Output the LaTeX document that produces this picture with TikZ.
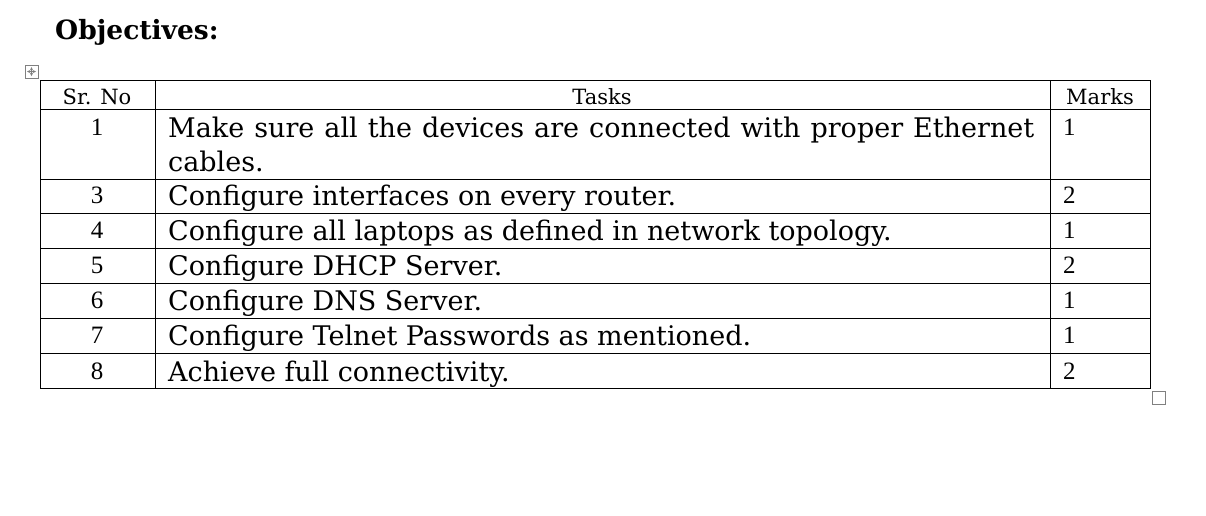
\documentclass[tikz,border=0pt]{standalone}
\usepackage{fontspec}
\setmainfont{DejaVu Serif}
\newfontfamily\numfont{Liberation Serif}
\begin{document}
\begin{tikzpicture}[x=1pt,y=-1pt,
  grid/.style={line width=0.8pt},
  tx/.style={font=\fontsize{27}{30}\selectfont,anchor=base west,inner sep=0},
  nm/.style={font=\fontsize{21}{24}\selectfont,anchor=base,inner sep=0},
  num/.style={font=\numfont\fontsize{25}{28}\selectfont,anchor=base,inner sep=0},
  mk/.style={font=\numfont\fontsize{25}{28}\selectfont,anchor=base west,inner sep=0}]
\path[use as bounding box,fill=white] (0,0) rectangle (1206,515);
\node[anchor=base west,inner sep=0,font=\bfseries\fontsize{26.5}{30}\selectfont] (title) at (55,39) {Objectives:};
% grid
\draw[grid] (40,80) rectangle (1150,388);
\foreach \y in {109,179,213,248,283,318,353} \draw[grid] (40,\y) -- (1150,\y);
\foreach \x in {155,1050} \draw[grid] (\x,80) -- (\x,388);
% icons
\draw[gray,line width=0.5pt] (25,65) rectangle (38,78);
\draw[gray,line width=0.5pt,->,>=stealth] (31.5,71.5) -- (31.5,67);
\draw[gray,line width=0.5pt,->,>=stealth] (31.5,71.5) -- (31.5,76);
\draw[gray,line width=0.5pt,->,>=stealth] (31.5,71.5) -- (27,71.5);
\draw[gray,line width=0.5pt,->,>=stealth] (31.5,71.5) -- (36,71.5);
\draw[gray,line width=0.5pt] (1152,391) rectangle (1165,404);
% header
\node[nm] (h1) at (97,104) {Sr. No};
\node[nm] (h2) at (602,104) {Tasks};
\node[nm] (h3) at (1100,104) {Marks};
% rows
\node[num] (n1) at (97,135) {1};
\node[tx] (t1) at (168,137) {\makebox[866pt][s]{Make sure all the devices are connected with proper Ethernet}};
\node[tx] (t1b) at (168,171) {cables.};
\node[mk] (m1) at (1063,135) {1};
\foreach \y/\n/\t/\m in {
  203/3/Configure interfaces on every router./2,
  238/4/Configure all laptops as defined in network topology./1,
  273/5/Configure DHCP Server./2,
  308/6/Configure DNS Server./1,
  343/7/Configure Telnet Passwords as mentioned./1,
  379/8/Achieve full connectivity./2} {
  \node[num] at (97,\y) {\n};
  \node[tx] at (168,\y+2) {\t};
  \node[mk] at (1063,\y) {\m};
}
\end{tikzpicture}
\end{document}
